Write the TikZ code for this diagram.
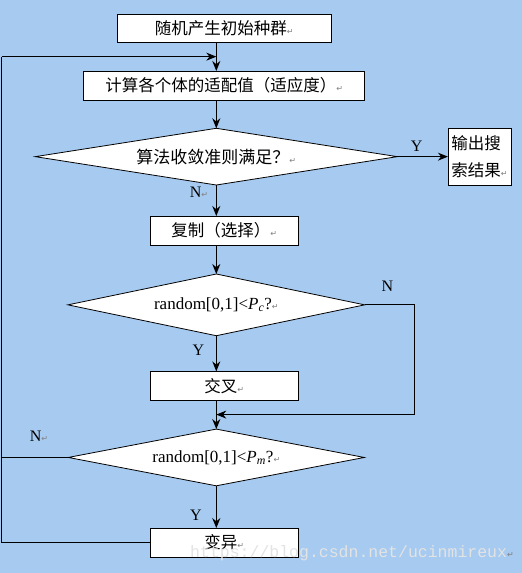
\documentclass[tikz,border=0pt]{standalone}
\usepackage{fontspec}
\setmainfont{Liberation Serif}
\newfontfamily\cjk{Noto Sans CJK SC}
\newfontfamily\dejavu{DejaVu Sans}
\newfontfamily\wmfont{Liberation Mono}
\usetikzlibrary{arrows.meta, positioning, shapes.geometric, calc}

\definecolor{wordblue}{RGB}{166,202,240}
\newcommand{\enter}{{\dejavu\color{gray}\fontsize{8}{8}\selectfont ↵}}

\begin{document}
\begin{tikzpicture}[x=1pt, y=-1pt,
    stepbox/.style={draw, fill=white, line width=0.8pt, inner sep=0pt, outer sep=0pt, minimum height=29pt, font=\cjk\fontsize{16.5}{20}\selectfont},
    test/.style={draw, fill=white, diamond, aspect=6, inner sep=0pt, outer sep=0pt, line width=0.8pt, font=\fontsize{17}{20}\selectfont},
    flow/.style={line width=1.3pt, -{Stealth[length=10pt, width=8pt]}},
    back/.style={line width=0.8pt},
    lbl/.style={font=\fontsize{16}{18}\selectfont}]

\fill[wordblue] (0,0) rectangle (522,573);
\useasboundingbox (0,0) rectangle (522,573);

% Main column
\node[stepbox, minimum width=214pt, minimum height=28pt] (init) at (224.3,28.3) {随机产生初始种群\enter};
\node[stepbox, minimum width=281pt, below=28.7pt of init] (fit) {计算各个体的适配值（适应度）\enter};
\node[test, minimum width=362pt, minimum height=56.7pt, below=28.3pt of fit, xshift=-8pt] (conv) {\cjk 算法收敛准则满足？\enter};
\node[stepbox, minimum width=63pt, minimum height=56.7pt, right=50.6pt of conv, align=left, font=\cjk\fontsize{16.5}{27.5}\selectfont] (out) {输出搜\\索结果\enter};
\node[stepbox, minimum width=147.7pt, below=31pt of conv, xshift=8pt] (sel) {复制（选择）\enter};
\node[test, minimum width=296.7pt, minimum height=61.7pt, below=29pt of sel, xshift=-8pt] (pc) {random[0,1]<\textit{P}\textsubscript{\textit{c}}?\enter};
\node[stepbox, minimum width=147.7pt, minimum height=28.7pt, below=35.7pt of pc, xshift=8pt] (cross) {交叉\enter};
\node[test, minimum width=296pt, minimum height=56.7pt, below=29pt of cross, xshift=-8pt] (pm) {random[0,1]<\textit{P}\textsubscript{\textit{m}}?\enter};
\node[stepbox, minimum width=147.7pt, below=42.3pt of pm, xshift=8pt] (mut) {变异\enter};

% Helper points for the loops
\coordinate (join1) at ($(init.south -| conv)!0.5!(fit.north -| conv)$);
\coordinate (join2) at ($(cross.south -| conv)!0.5!(pm.north -| conv)$);
\coordinate (leftx) at (1.7,0);
\coordinate (rightx) at (414.3,0);

% Connections
\draw[flow] (init.south -| conv) -- (fit.north -| conv);
\draw[flow] (fit.south -| conv) -- (conv.north);
\draw[flow] (conv.east) -- (out.west);
\draw[flow] (conv.south) -- (sel.north -| conv);
\draw[flow] (sel.south -| pc) -- (pc.north);
\draw[flow] (pc.south) -- (cross.north -| pc);
\draw[flow] (cross.south -| pm) -- (pm.north);
\draw[flow] (pm.south) -- (mut.north -| pm);

% Loops
\draw[back] (pc.east) -- (pc.east -| rightx) -- (rightx |- join2);
\draw[flow, line width=0.8pt] (rightx |- join2) -- (join2);
\draw[back] (pm.west) -- (pm.west -| leftx);
\draw[back] (mut.west) -- (mut.west -| leftx) -- (leftx |- join1);
\draw[flow, line width=0.8pt] (leftx |- join1) -- (join1);

% Labels
\node[lbl] (y1) at (416.7,146.7) {Y};
\node[lbl] (n1) at (199,192.7) {N\enter};
\node[lbl] (n2) at (387.3,286.7) {N};
\node[lbl] (y2) at (198.3,350) {Y};
\node[lbl] (n3) at (39,436) {N\enter};
\node[lbl] (y3) at (196,515) {Y};

% Watermark
\node[font=\wmfont\fontsize{16.5}{18}\selectfont, text=white!78!gray, anchor=west, inner sep=0pt] (mark) at (190,553) {https://blog.csdn.net/ucinmireux\enter};

\end{tikzpicture}
\end{document}
